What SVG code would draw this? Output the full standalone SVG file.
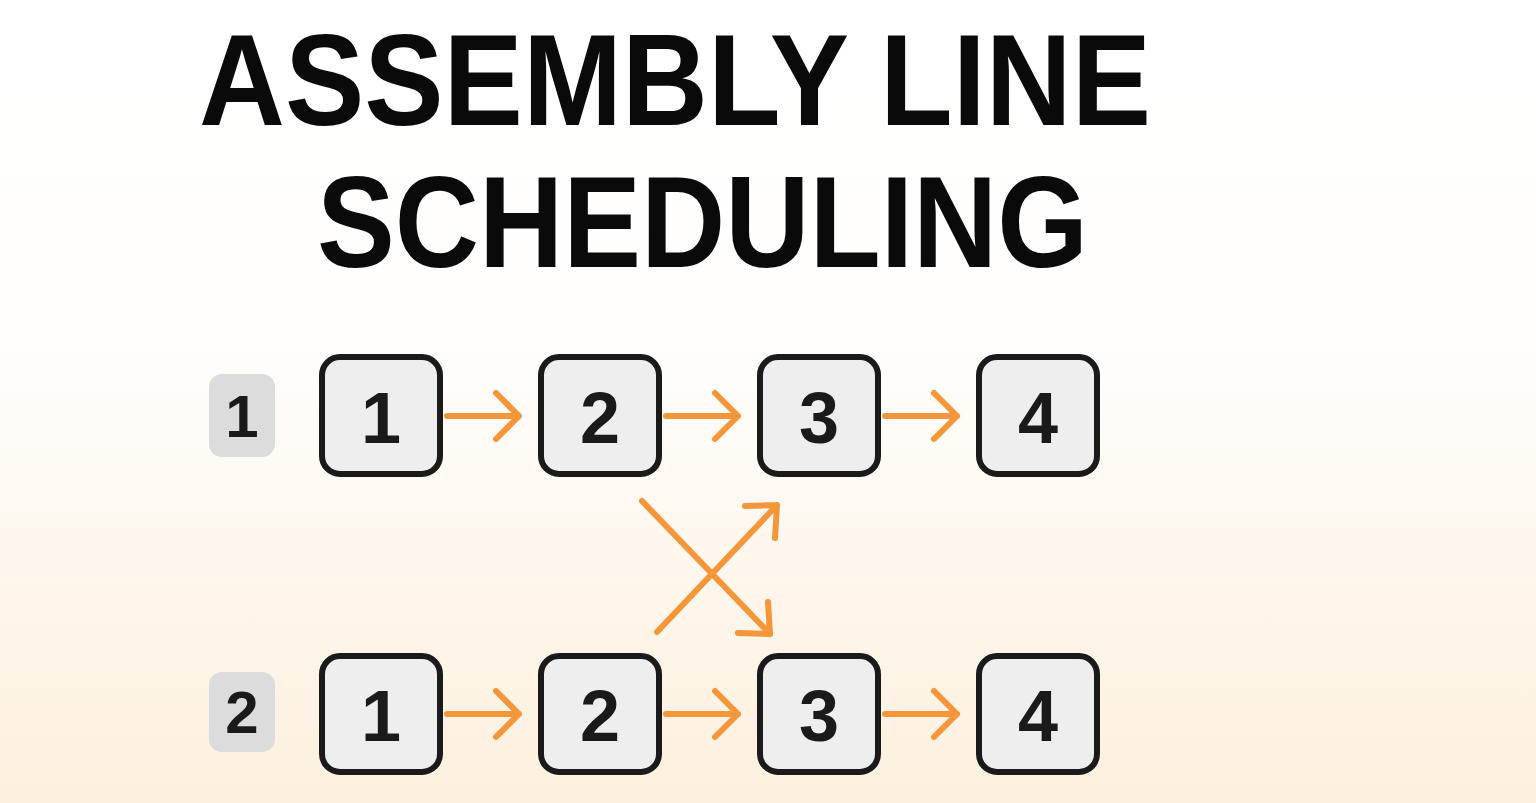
<svg xmlns="http://www.w3.org/2000/svg" width="1536" height="803" viewBox="0 0 1536 803">
  <defs>
    <linearGradient id="bg" x1="0" y1="0" x2="0" y2="1">
      <stop offset="0" stop-color="#ffffff"/>
      <stop offset="0.42" stop-color="#fffefc"/>
      <stop offset="1" stop-color="#fdf0de"/>
    </linearGradient>
    <style>
      .title { font-family: "Liberation Sans", Arial, sans-serif; font-weight: bold; font-size: 130px; fill: #0a0a0a; }
      .box { fill: #eeeeee; stroke: #1a1a1a; stroke-width: 6; }
      .num { font-family: "Liberation Sans", Arial, sans-serif; font-weight: bold; font-size: 72px; fill: #1a1a1a; text-anchor: middle; }
      .lab { fill: #dcdcdc; }
      .labnum { font-family: "Liberation Sans", Arial, sans-serif; font-weight: bold; font-size: 60px; fill: #1a1a1a; text-anchor: middle; }
      .arr { fill: none; stroke: #f6963a; stroke-width: 6; stroke-linecap: round; stroke-linejoin: round; }
    </style>
  </defs>
  <rect width="1536" height="803" fill="url(#bg)"/>

  <g id="title">
    <text class="title" x="199" y="125" textLength="952" lengthAdjust="spacingAndGlyphs">ASSEMBLY LINE</text>
    <text class="title" x="317" y="267" textLength="771" lengthAdjust="spacingAndGlyphs">SCHEDULING</text>
  </g>

  <g id="line1-label">
    <rect class="lab" x="209" y="374" width="66" height="83" rx="13"/>
    <text class="labnum" x="242" y="437">1</text>
  </g>
  <g id="line2-label">
    <rect class="lab" x="209" y="672" width="66" height="80" rx="13"/>
    <text class="labnum" x="242" y="733">2</text>
  </g>

  <g id="s1-1"><rect class="box" x="322" y="357" width="118" height="117" rx="18"/><text class="num" x="381" y="443">1</text></g>
  <g id="s1-2"><rect class="box" x="541" y="357" width="118" height="117" rx="18"/><text class="num" x="600" y="443">2</text></g>
  <g id="s1-3"><rect class="box" x="760" y="357" width="118" height="117" rx="18"/><text class="num" x="819" y="443">3</text></g>
  <g id="s1-4"><rect class="box" x="979" y="357" width="118" height="117" rx="18"/><text class="num" x="1038" y="443">4</text></g>

  <g id="s2-1"><rect class="box" x="322" y="656" width="118" height="116" rx="18"/><text class="num" x="381" y="741">1</text></g>
  <g id="s2-2"><rect class="box" x="541" y="656" width="118" height="116" rx="18"/><text class="num" x="600" y="741">2</text></g>
  <g id="s2-3"><rect class="box" x="760" y="656" width="118" height="116" rx="18"/><text class="num" x="819" y="741">3</text></g>
  <g id="s2-4"><rect class="box" x="979" y="656" width="118" height="116" rx="18"/><text class="num" x="1038" y="741">4</text></g>

  <g id="connectors">
    <path class="arr" d="M447 416 H519 M496 393 L519 416 L496 439"/>
    <path class="arr" d="M666 416 H738 M715 393 L738 416 L715 439"/>
    <path class="arr" d="M885 416 H957 M934 393 L957 416 L934 439"/>

    <path class="arr" d="M447 714 H519 M496 691 L519 714 L496 737"/>
    <path class="arr" d="M666 714 H738 M715 691 L738 714 L715 737"/>
    <path class="arr" d="M885 714 H957 M934 691 L957 714 L934 737"/>

    <path class="arr" d="M642 501 L770 634 M768 602 L770 634 L738 633"/>
    <path class="arr" d="M657 632 L777 505 M745 506 L777 505 L775 538"/>
  </g>
</svg>
